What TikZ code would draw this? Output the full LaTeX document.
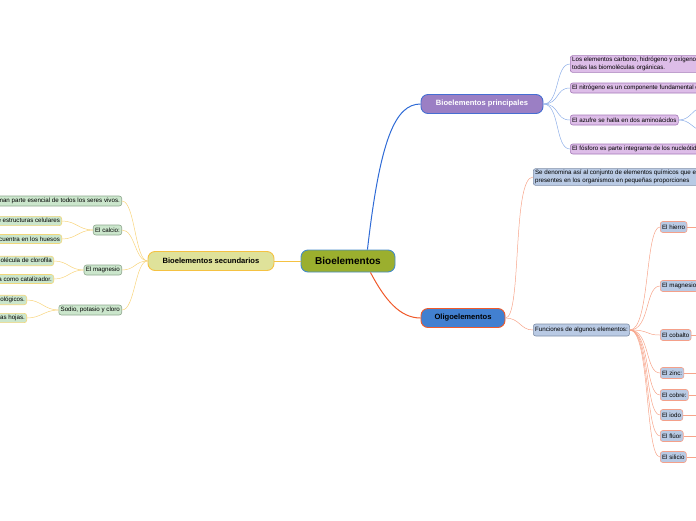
\documentclass[tikz,border=0pt]{standalone}
\usepackage{fontspec}
\setmainfont{Liberation Sans}
\begin{document}
\begin{tikzpicture}[x=1pt,y=-1pt,
 base/.style={rounded corners=2.5pt,font=\fontsize{6.2}{7.4}\selectfont,inner sep=1.8pt,line width=0.6pt},
 main/.style={base,rounded corners=7pt,line width=0.9pt},
 pur/.style={base,fill=pLeaf,draw=pBord,align=left,minimum height=10pt},
 blu/.style={base,fill=bLeaf,draw=bBord,align=left,minimum height=10pt},
 ora/.style={base,fill=bLeaf,draw=oBord,minimum height=11pt},
 grn/.style={base,fill=gLeaf,draw=gBord,minimum height=10pt},
 ylw/.style={base,fill=gLeaf,draw=yBord,minimum height=9pt},
 cb/.style={draw=cBlue,line width=1pt},
 cbl/.style={draw=cBlue!55,line width=0.5pt},
 co/.style={draw=cOr,line width=1pt},
 col/.style={draw=cOr!55,line width=0.5pt},
 cy/.style={draw=cYel,line width=1pt},
 cyl/.style={draw=cYel!70,line width=0.5pt}]
\definecolor{pLeaf}{HTML}{DDBDE8}\definecolor{pBord}{HTML}{A57AB8}
\definecolor{bLeaf}{HTML}{B9CAE4}\definecolor{bBord}{HTML}{7F8FA8}
\definecolor{oBord}{HTML}{F4A08A}\definecolor{gLeaf}{HTML}{CBE6CC}
\definecolor{gBord}{HTML}{8FA88F}\definecolor{yBord}{HTML}{F1D77A}
\definecolor{cBlue}{HTML}{2F6BD6}\definecolor{cOr}{HTML}{F0592A}\definecolor{cYel}{HTML}{F5C242}
\useasboundingbox (0,0) rectangle (696,520);
\clip (0,0) rectangle (696,520);
% main nodes
\node[main,fill={rgb,255:red,155;green,175;blue,46},draw={rgb,255:red,70;green,140;blue,200},minimum width=94pt,minimum height=22pt,font=\fontsize{10}{12}\selectfont\bfseries] (root) at (348,261) {Bioelementos};
\node[main,fill={rgb,255:red,155;green,127;blue,196},draw={rgb,255:red,70;green,110;blue,210},text=white,minimum width=122pt,font=\fontsize{7.6}{9}\selectfont\bfseries,minimum height=19pt] (pri) at (482,104) {Bioelementos principales};
\node[main,fill={rgb,255:red,66;green,128;blue,208},draw={rgb,255:red,240;green,90;blue,42},minimum width=84pt,font=\fontsize{7.6}{9}\selectfont\bfseries,minimum height=19pt] (oli) at (463,318) {Oligoelementos};
\node[main,fill={rgb,255:red,223;green,226;blue,154},draw=cYel,minimum width=126pt,font=\fontsize{7.6}{9}\selectfont\bfseries,minimum height=19pt] (sec) at (211,261) {Bioelementos secundarios};
\draw[cb] (root.north east)++(-28,0) .. controls (380,140) and (395,104) .. (pri.west);
\draw[co] (root.south east)++(-25,0) .. controls (385,300) and (400,318) .. (oli.west);
\draw[cy] (root.west) -- (sec.east);
% principales
\node[pur,anchor=west] (p1) at (570,64) {Los elementos carbono, hidrógeno y oxígeno forman parte de\\todas las biomoléculas orgánicas.};
\node[pur,anchor=west] (p2) at (570,88) {El nitrógeno es un componente fundamental de las proteínas};
\node[pur,anchor=west] (p3) at (570,120) {El azufre se halla en dos aminoácidos};
\node[pur,anchor=west] (p4) at (570,149) {El fósforo es parte integrante de los nucleótidos};
\foreach \n in {p1,p2,p3,p4}{\draw[cbl] (pri.east) .. controls (560,104) and (555,0|-\n.west) .. (\n.west);}
\coordinate (e1) at (700,108);\coordinate (e2) at (700,130);
\draw[cbl] (p3.east) .. controls (690,120) and (692,110) .. (e1);
\draw[cbl] (p3.east) .. controls (690,120) and (692,128) .. (e2);
% oligo
\node[blu,anchor=west] (o1) at (533,177) {Se denomina así al conjunto de elementos químicos que están\\presentes en los organismos en pequeñas proporciones};
\node[blu,anchor=west,minimum height=12pt] (o2) at (533,330) {Funciones de algunos elementos:};
\draw[col] (oli.east) .. controls (522,318) and (512,177) .. (o1.west);
\draw[col] (oli.east) .. controls (520,318) and (520,330) .. (o2.west);
\foreach \t/\y/\nm in {El hierro/227/h,El magnesio/286/m,El cobalto/335/c,El zinc:/373/z,El cobre:/395/cu,El iodo/415/i,El flúor/436/f,El silicio/457/s}{
 \node[ora,anchor=west] (\nm) at (660,\y) {\t};
 \draw[col] (o2.east) .. controls (650,330) and (645,\y) .. (\nm.west);
 \coordinate (\nm x) at (700,\y);
 \draw[col] (\nm.east) -- (\nm x);}
% secundarios
\node[grn,anchor=east] (s0) at (122,201) {Los bioelementos secundarios forman parte esencial de todos los seres vivos.};
\node[grn,anchor=east] (s1) at (122,230) {El calcio:};
\node[grn,anchor=east] (s2) at (122,270) {El magnesio};
\node[grn,anchor=east] (s3) at (122,310) {Sodio, potasio y cloro};
\foreach \n in {s0,s1,s2,s3}{\draw[cyl] (sec.west) .. controls (135,261) and (135,0|-\n.east) .. (\n.east);}
\node[ylw,anchor=east] (l1) at (62,221) {Forma parte de estructuras celulares};
\node[ylw,anchor=east] (l2) at (62,239) {Se encuentra en los huesos};
\node[ylw,anchor=east] (l3) at (54,261) {Forma parte de la molécula de clorofila};
\node[ylw,anchor=east] (l4) at (54,279) {Actúa como catalizador.};
\node[ylw,anchor=east] (l5) at (27,300) {Intervienen en procesos fisiológicos.};
\node[ylw,anchor=east] (l6) at (27,318) {Mantienen la turgencia de las hojas.};
\foreach \a/\b in {s1/l1,s1/l2,s2/l3,s2/l4,s3/l5,s3/l6}{\draw[cyl] (\a.west) .. controls ([xshift=-14]\a.west) and ([xshift=14]\b.east) .. (\b.east);}
\end{tikzpicture}
\end{document}
